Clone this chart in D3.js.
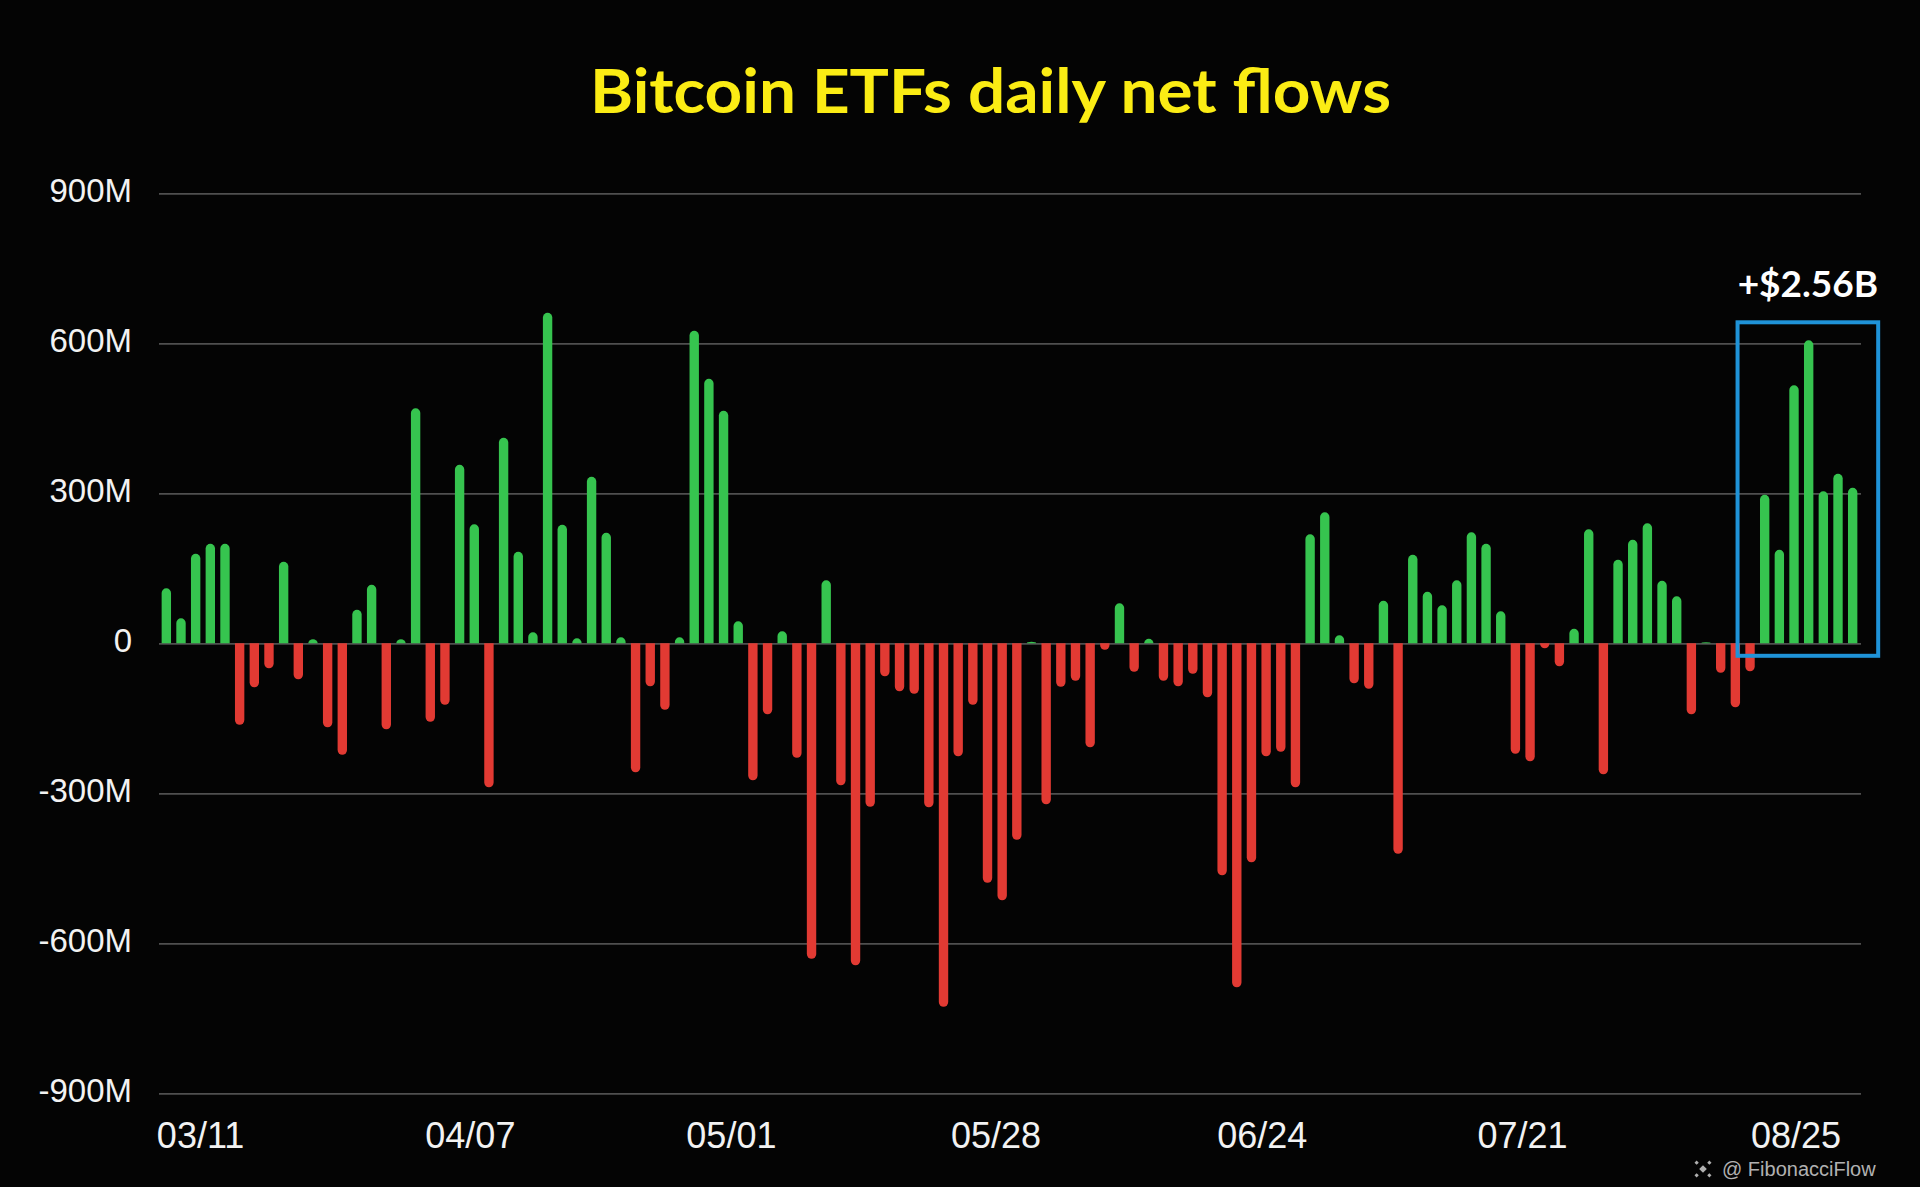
<!DOCTYPE html>
<html>
<head>
<meta charset="utf-8">
<script src="https://cdn.jsdelivr.net/npm/d3@7"></script>
<style>
  html, body { margin: 0; padding: 0; background: #040404; }
  svg { display: block; }
</style>
</head>
<body>
<svg id="chart" width="1920" height="1187"></svg>
<script>
// daily net flows, millions of USD, one per trading day
var flows = [
  110, 50, 179, 199, 199, -163, -88, -50, 163, -72,
  8, -168, -223, 67, 117, -172, 8, 470, -157, -123,
  357, 238, -288, 411, 183, 22, 661, 237, 10, 333,
  221, 12, -258, -86, -133, 12, 625, 529, 465, 44,
  -274, -142, 24, -229, -631, 126, -284, -644, -327, -66,
  -96, -101, -328, -727, -226, -123, -479, -514, -393, 3,
  -322, -87, -75, -208, -13, 80, -57, 9, -75, -86,
  -61, -108, -464, -688, -438, -226, -217, -288, 218, 262,
  16, -80, -91, 85, -421, 177, 103, 76, 126, 222,
  199, 64, -221, -236, -10, -46, 29, 228, -262, 167,
  207, 240, 125, 94, -142, 2, -59, -128, -56, 297,
  187, 516, 606, 304, 339, 311
];

// date labels and where they sit along the day index
var dateLabels = ["03/11", "04/07", "05/01", "05/28", "06/24", "07/21", "08/25"];
var dateLabelAt = [2.3, 20.7, 38.5, 56.55, 74.7, 92.45, 111.1];

var yTicks = [-900, -600, -300, 0, 300, 600, 900];

// last week highlighted in the box
var highlightDays = 7;

var svg = d3.select("#chart");

svg.append("rect")
    .attr("width", 1920)
    .attr("height", 1187)
    .attr("fill", "#040404");

var left = 159, right = 1860;

var x = d3.scaleBand()
    .domain(d3.range(flows.length))
    .range([left, right])
    .paddingInner(0.36)
    .paddingOuter(0.18);

var bw = x.bandwidth();

var xc = d3.scaleLinear()
    .domain([0, flows.length - 1])
    .range([x(0) + bw / 2, x(flows.length - 1) + bw / 2]);

var y = d3.scaleLinear()
    .domain([-900, 900])
    .range([1093.3, 193.3]);

// y axis + grid
var yAxis = svg.append("g")
    .attr("transform", "translate(" + left + ",0)")
    .call(d3.axisLeft(y)
        .tickValues(yTicks)
        .tickSizeInner(-(right - left + 1))
        .tickSizeOuter(0)
        .tickPadding(27)
        .tickFormat(function(d) { return d === 0 ? "0" : d + "M"; }));

yAxis.select(".domain").remove();
yAxis.selectAll("line")
    .attr("stroke", "#4f4f4f")
    .attr("stroke-width", 1.7);
yAxis.selectAll("text")
    .attr("fill", "#f2f2f2")
    .attr("font-family", "'Liberation Sans', Arial, sans-serif")
    .attr("font-size", "33px")
    .attr("dy", "0.26em");

// x axis with date labels
var xAxis = svg.append("g")
    .attr("transform", "translate(0," + y(-900) + ")")
    .call(d3.axisBottom(xc)
        .tickValues(dateLabelAt)
        .tickSize(0)
        .tickPadding(29)
        .tickFormat(function(d, i) { return dateLabels[i]; }));

xAxis.select(".domain").remove();
xAxis.selectAll("text")
    .attr("fill", "#f2f2f2")
    .attr("font-family", "'Liberation Sans', Arial, sans-serif")
    .attr("font-size", "36px");

// bars, rounded at the tip
function barPath(d, i) {
    var x0 = x(i);
    var y0 = y(0);
    var y1 = y(d);
    var h = Math.abs(y1 - y0);
    var rx = bw / 2;
    var ry = Math.min(rx, h);
    var s = d >= 0 ? 1 : -1;
    var yc = y1 + s * ry;
    return "M" + x0 + "," + y0 +
        "V" + yc +
        "A" + rx + "," + ry + " 0 0 " + (d >= 0 ? 1 : 0) + " " + (x0 + bw) + "," + yc +
        "V" + y0 + "Z";
}

svg.append("g")
    .selectAll("path")
    .data(flows)
    .enter()
    .append("path")
    .attr("d", barPath)
    .attr("fill", function(d) { return d >= 0 ? "#36c44f" : "#e23a33"; });

// highlight box on the last week
var lastWeek = flows.slice(flows.length - highlightDays);
var first = flows.length - highlightDays;
var total = d3.sum(lastWeek);

var boxL = x(first) - x.step() * 1.53;
var boxR = x(flows.length - 1) + bw + x.step() * 1.42;
var boxT = y(d3.max(lastWeek) + 36);
var boxB = y(-25);

svg.append("rect")
    .attr("x", boxL)
    .attr("y", boxT)
    .attr("width", boxR - boxL)
    .attr("height", boxB - boxT)
    .attr("fill", "none")
    .attr("stroke", "#1f93d8")
    .attr("stroke-width", 4);

svg.append("text")
    .attr("x", (boxL + boxR) / 2)
    .attr("y", 297)
    .attr("text-anchor", "middle")
    .attr("font-family", "Lato, 'Open Sans', sans-serif")
    .attr("font-weight", "bold")
    .attr("font-size", "37px")
    .attr("fill", "#ffffff")
    .text("+$" + (total / 1000).toFixed(2) + "B");

// title
svg.append("text")
    .attr("x", 990.5)
    .attr("y", 112.7)
    .attr("text-anchor", "middle")
    .attr("font-family", "Lato, 'Open Sans', sans-serif")
    .attr("font-weight", "bold")
    .attr("font-size", "61px")
    .attr("textLength", 801)
    .attr("lengthAdjust", "spacingAndGlyphs")
    .attr("fill", "#fbec14")
    .text("Bitcoin ETFs daily net flows");

// watermark
function logo(cx, cy, s, op) {
    var g = svg.append("g")
        .attr("transform", "translate(" + cx + "," + cy + ") rotate(45)")
        .attr("fill", "#cfcfcf")
        .attr("opacity", op);
    [[0, 0, 0.9], [-1.5, 0, 0.5], [1.5, 0, 0.5], [0, -1.5, 0.5], [0, 1.5, 0.5]].forEach(function(p) {
        g.append("rect")
            .attr("x", p[0] * s - p[2] * s / 2)
            .attr("y", p[1] * s - p[2] * s / 2)
            .attr("width", p[2] * s)
            .attr("height", p[2] * s);
    });
}
logo(1703, 1169, 6, 0.85);

svg.append("text")
    .attr("x", 1722)
    .attr("y", 1176)
    .attr("font-family", "'Liberation Sans', Arial, sans-serif")
    .attr("font-size", "20px")
    .attr("fill", "#d0d0d0")
    .attr("opacity", 0.85)
    .text("@ FibonacciFlow");
</script>
</body>
</html>
